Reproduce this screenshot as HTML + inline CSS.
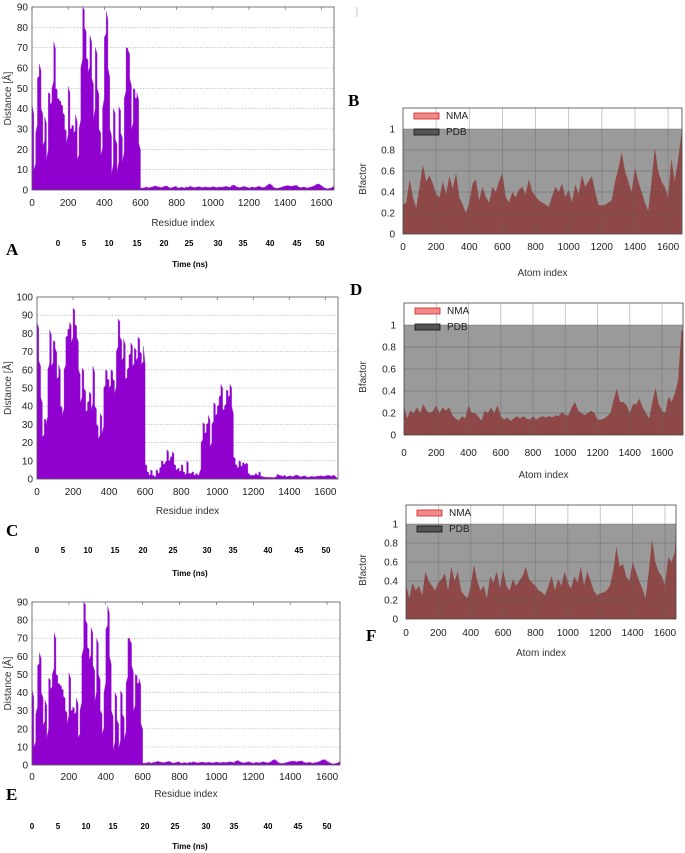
<!DOCTYPE html>
<html><head><meta charset="utf-8">
<style>
html,body{margin:0;padding:0;background:#fff;}
svg{display:block;font-family:"Liberation Sans",sans-serif;}
.lbl{font-family:"Liberation Serif",serif;font-weight:bold;font-size:17px;}
.tm{font-size:8px;font-weight:bold;}
.tk{font-size:10px;fill:#222;}
.at{font-size:10px;fill:#333;}
</style></head>
<body>
<svg id="fig" width="685" height="853" viewBox="0 0 685 853"></svg>
<script>
// ---- Data ----
const distA = [42,10,28,55,62,40,22,36,15,48,42,50,73,50,45,44,42,38,30,23,51,30,32,28,37,15,30,60,90,80,65,58,76,55,35,70,50,30,17,40,75,88,60,30,8,40,25,9,41,28,14,45,70,69,55,30,50,45,48,23,
1,1,1.2,1.5,1,1.3,1.5,1.8,2,1.6,1.5,1.2,1.5,1.8,2,1.5,1,1.2,1.5,1.8,1.2,1,1.4,1.2,1,1.5,1.3,1.8,1.5,1.2,1.3,1.5,1.6,1.4,1.2,1.5,1.4,1.3,1.2,1.5,1.6,1.3,1.2,1.5,1.4,1.4,1.6,1.8,1.5,1.3,2,2.5,2,1.5,1.2,1.3,1.5,1.8,1.4,1.2,1,1.5,1.3,1.2,1.5,1.8,1.5,1.2,1.3,1.8,2.5,3,2.5,1.5,1,0.8,1,1.2,1.5,1.8,2,2.2,2,1.8,2,2.2,2.2,
1.5,1.2,1.3,1.5,1.2,1,1.3,1.5,1.8,2.2,2.8,3,2.5,1.8,1.2,0.8,0.6,0.8,1,1.5,2,2.2,2,2.2,2.4];
const distC = [86,65,45,23,33,30,60,82,62,76,72,55,63,40,35,60,78,82,86,75,94,85,78,60,42,61,50,37,42,48,38,62,40,30,22,36,25,50,60,55,50,60,55,47,70,88,78,65,77,55,60,68,75,62,72,65,78,70,63,73,
8,4,2,5,2,1,5,3,6,10,8,9,16,10,12,15,8,5,6,4,8,4,2,10,3,3,4,2,3,2,3,20,31,25,30,35,18,30,42,35,40,45,52,38,40,49,45,52,40,12,8,6,10,7,9,8,9,3,2,2,2,3,2,4,1.5,1.2,1,1,0.8,1,0.8,0.8,1,2.5,2,1.8,1.5,2,1.2,1.5,1.8,1.3,1.5,2,2.2,1.5,1.2,1.5,1.8,1.2,1,1.2,1.5,1.2,1.3,1.5,1.6,1.8,1.5,1.5,1.8,2,1.8,1.6,2];
const distE = distA.slice();
const residueStep = 10;
const bfB = [.28,.3,.52,.35,.25,.45,.66,.5,.56,.48,.38,.35,.5,.38,.55,.43,.58,.35,.28,.2,.3,.48,.52,.32,.45,.35,.3,.45,.4,.5,.58,.35,.3,.4,.35,.42,.45,.38,.52,.4,.36,.32,.3,.28,.26,.36,.45,.4,.48,.35,.42,.3,.47,.38,.56,.45,.5,.55,.4,.28,.27,.28,.3,.32,.5,.62,.78,.6,.5,.4,.63,.5,.4,.3,.22,.5,.82,.6,.5,.45,.35,.72,.5,.7,.95];
const bfD = [.26,.15,.22,.2,.25,.2,.28,.22,.2,.22,.27,.2,.25,.22,.25,.18,.15,.13,.17,.15,.27,.2,.2,.17,.13,.22,.2,.25,.2,.27,.17,.14,.16,.13,.15,.17,.15,.17,.15,.14,.17,.14,.16,.17,.16,.17,.16,.18,.17,.21,.18,.18,.25,.3,.22,.2,.18,.2,.22,.2,.14,.14,.15,.17,.2,.32,.42,.3,.3,.27,.2,.28,.28,.33,.25,.2,.15,.3,.43,.28,.22,.2,.35,.3,.38,.5,.95];
const bfF = [.36,.22,.38,.3,.35,.25,.5,.4,.35,.3,.38,.42,.48,.3,.55,.4,.5,.3,.25,.22,.35,.57,.4,.3,.35,.22,.45,.38,.5,.32,.52,.35,.3,.42,.35,.4,.45,.55,.42,.38,.35,.3,.28,.25,.35,.45,.3,.42,.35,.5,.38,.32,.45,.38,.55,.35,.5,.4,.3,.25,.27,.28,.3,.35,.5,.76,.55,.58,.45,.4,.6,.5,.4,.32,.22,.5,.84,.6,.5,.45,.35,.65,.6,.7,.9];
const atomStep = 20;
const distTicks = [0,200,400,600,800,1000,1200,1400,1600];
const bfTicksY = [0,0.2,0.4,0.6,0.8,1];
const timeLabels = [0,5,10,15,20,25,30,35,40,45,50];

const NS="http://www.w3.org/2000/svg";
const svg=document.getElementById('fig');
function el(tag,attrs,parent,text){const e=document.createElementNS(NS,tag);for(const k in attrs)e.setAttribute(k,attrs[k]);if(text!==undefined)e.textContent=text;(parent||svg).appendChild(e);return e;}

function distPanel(id,data,box,xmax,ymax,ystep,xlblY,ttlY){
  const g=el('g',{});
  
  
  const sx=v=>box.l+(Math.min(v,xmax)/xmax)*(box.r-box.l);
  const sy=v=>box.b-(v/ymax)*(box.b-box.t);
  for(let v=ystep;v<ymax;v+=ystep){
    const ln=el('line',{x1:box.l,x2:box.r,y1:sy(v),y2:sy(v),stroke:'#aaa','stroke-width':0.6,'stroke-dasharray':'1.5,1.5'},g);
    
    
  }
  let d='M'+sx(0)+','+sy(0);
  data.forEach((v,i)=>{const x0=sx(i*residueStep),x1=sx((i+1)*residueStep);d+=' L'+x0+','+sy(v)+' L'+x1+','+sy(v*0.85+ (data[i+1]||v)*0.15);});
  d+=' L'+sx(xmax)+','+sy(0)+' Z';
  const area=el('path',{d:d,fill:'#9000cf',stroke:'#a040e0','stroke-width':0.4},g);
  
  
  const fr=el('rect',{x:box.l,y:box.t,width:box.r-box.l,height:box.b-box.t,fill:'none',stroke:'#555','stroke-width':0.8},g);
  
  
  for(let v=0;v<=ymax;v+=ystep){
    const t=el('text',{x:box.l-4,y:sy(v)+3.5,'text-anchor':'end',class:'tk'},g,String(v));
    
    
  }
  distTicks.forEach(v=>{
    const t=el('text',{x:sx(v),y:xlblY,'text-anchor':'middle',class:'tk'},g,String(v));
    
    
    el('line',{x1:sx(v),x2:sx(v),y1:box.t,y2:box.t+3,stroke:'#555','stroke-width':0.6},g);
  });
  const xt=el('text',{x:(box.l+box.r)/2,y:ttlY,'text-anchor':'middle',class:'at'},g,'Residue index');
  
  
  const cy=(box.t+box.b)/2;
  const yt=el('text',{x:11,y:cy,'text-anchor':'middle',class:'at',transform:'rotate(-90 11 '+cy+')'},g,'Distance [Å]');
  
  
}

function timeRow(xs,y,ty,tx){
  timeLabels.forEach((v,i)=>{
    const t=el('text',{x:xs[i],y:y,'text-anchor':'middle',class:'tm'},svg,String(v));
    
    
  });
  const t=el('text',{x:tx,y:ty,'text-anchor':'middle',class:'tm'},svg,'Time (ns)');
  
  
}

function bfPanel(id,data,box,xmax,xlblY,ttlY,ylblX){
  const g=el('g',{});
  
  
  const ymax=1.2;
  const sx=v=>box.l+(v/xmax)*(box.r-box.l);
  const sy=v=>box.b-(v/ymax)*(box.b-box.t);
  const bg=el('rect',{x:box.l,y:sy(1),width:box.r-box.l,height:sy(0)-sy(1),fill:'#9a9a9a'},g);
  
  
  let d='M'+sx(0)+','+sy(0);
  data.forEach((v,i)=>{d+=' L'+sx(Math.min(i*atomStep,xmax))+','+sy(v);});
  d+=' L'+sx(xmax)+','+sy(data[data.length-1])+' L'+sx(xmax)+','+sy(0)+' Z';
  const ar=el('path',{d:d,fill:'#8e4848'},g);
  
  
  [200,400,600,800,1000,1200,1400,1600].forEach(v=>{
    const ln=el('line',{x1:sx(v),x2:sx(v),y1:box.t,y2:box.b,stroke:'#666','stroke-opacity':0.45,'stroke-width':0.8},g);
    
    
  });
  bfTicksY.forEach(v=>{
    if(v>0&&v<1.01){const ln=el('line',{x1:box.l,x2:box.r,y1:sy(v),y2:sy(v),stroke:'#555','stroke-opacity':0.5,'stroke-width':0.8},g);
    
    }
    const t=el('text',{x:box.l-8,y:sy(v)+3.5,'text-anchor':'end',class:'tk'},g,String(v));
    
    
  });
  const fr=el('rect',{x:box.l,y:box.t,width:box.r-box.l,height:box.b-box.t,fill:'none',stroke:'#444','stroke-width':0.8},g);
  
  
  distTicks.forEach(v=>{
    const t=el('text',{x:sx(v),y:xlblY,'text-anchor':'middle',class:'tk'},g,String(v));
    
    
  });
  const xt=el('text',{x:(box.l+box.r)/2,y:ttlY,'text-anchor':'middle',class:'at'},g,'Atom index');
  
  
  const cy=(box.t+box.b)/2+8;
  const yt=el('text',{x:ylblX,y:cy,'text-anchor':'middle',class:'at',transform:'rotate(-90 '+ylblX+' '+cy+')'},g,'Bfactor');
  
  
  const lg=el('g',{},g);
  
  
  const l1=el('rect',{x:box.l+11,y:box.t+5,width:25,height:6,fill:'#f28a8a',stroke:'#d02020','stroke-width':0.8},lg);
  
  
  const t1=el('text',{x:box.l+43,y:box.t+11,class:'tk'},lg,'NMA');
  
  
  const l2=el('rect',{x:box.l+11,y:box.t+21,width:25,height:6,fill:'#555',stroke:'#111','stroke-width':0.8},lg);
  
  
  const t2=el('text',{x:box.l+43,y:box.t+27,class:'tk'},lg,'PDB');
  
  
}

distPanel('panel-a',distA,{l:32,r:334,t:7,b:190},1670,90,10,206,226);
distPanel('panel-c',distC,{l:37,r:338,t:297,b:479},1670,100,10,495,514);
distPanel('panel-e',distE,{l:32,r:340,t:602,b:765},1670,90,10,780,797);
timeRow([58,84,109,137,164,189,218,243,270,297,320],246,267,190);
timeRow([37,63,88,115,143,173,207,233,268,299,326],553,576,190);
timeRow([32,58,86,113,145,175,206,234,268,298,327],829,849,190);
bfPanel('panel-b',bfB,{l:403,r:682,t:108,b:234},1684,250,276,366);
bfPanel('panel-d',bfD,{l:404,r:683,t:303,b:435},1730,456,478,366);
bfPanel('panel-f',bfF,{l:406,r:676,t:505,b:619},1668,636,656,366);

[['A',6,255],['B',348,106],['C',6,536],['D',350,295],['E',6,800],['F',366,641]].forEach(p=>{
  const t=el('text',{x:p[1],y:p[2],class:'lbl'},svg,p[0]);
  
  
});
const mk=el('line',{x1:357,x2:357,y1:7,y2:17,stroke:'#bbb','stroke-width':0.8});


</script>
</body></html>
